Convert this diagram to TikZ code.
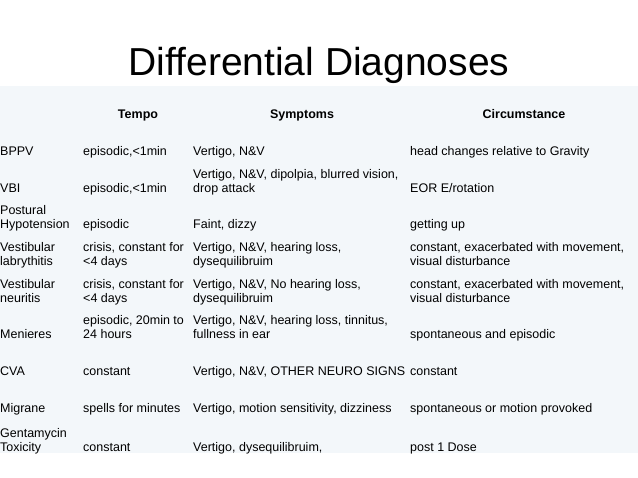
\documentclass[tikz,border=0pt]{standalone}
\usepackage{fontspec}
\setmainfont{Liberation Sans}
\definecolor{bg}{HTML}{F3F7FA}
\begin{document}
\begin{tikzpicture}[x=1pt,y=-1pt,
  t/.style={anchor=base west,inner sep=0pt,font=\fontsize{12.5}{14}\selectfont},
  h/.style={anchor=base,inner sep=0pt,font=\fontsize{12.5}{14}\selectfont\bfseries}]
\useasboundingbox (0,0) rectangle (638,478);
\fill[bg] (0,86) rectangle (638,453);
\node[anchor=base,inner sep=0pt,font=\fontsize{39}{44}\selectfont] (title) at (319,76) {Differential Diagnoses};
\node[h] (h1) at (138,118.5) {Tempo};
\node[h] (h2) at (302,118.5) {Symptoms};
\node[h] (h3) at (524,118.5) {Circumstance};
% BPPV
\node[t] (a1) at (0,155.5) {BPPV};
\node[t] (b1) at (83,155.5) {episodic,<1min};
\node[t] (c1) at (193,155.5) {Vertigo, N\&V};
\node[t] (d1) at (410,155.5) {head changes relative to Gravity};
% VBI
\node[t] (a2) at (0,192.5) {VBI};
\node[t] (b2) at (83,192.5) {episodic,<1min};
\node[t] (c2) at (193,178.5) {Vertigo, N\&V, dipolpia, blurred vision,};
\node[t] (c2b) at (193,192.5) {drop attack};
\node[t] (d2) at (410,192.5) {EOR E/rotation};
% Postural
\node[t] (a3) at (0,214.5) {Postural};
\node[t] (a3b) at (0,228.5) {Hypotension};
\node[t] (b3) at (83,228.5) {episodic};
\node[t] (c3) at (193,228.5) {Faint, dizzy};
\node[t] (d3) at (410,228.5) {getting up};
% Vestibular labrythitis
\node[t] (a4) at (0,251.5) {Vestibular};
\node[t] (a4b) at (0,266) {labrythitis};
\node[t] (b4) at (83,251.5) {crisis, constant for};
\node[t] (b4b) at (83,266) {<4 days};
\node[t] (c4) at (193,251.5) {Vertigo, N\&V, hearing loss,};
\node[t] (c4b) at (193,266) {dysequilibruim};
\node[t] (d4) at (410,251.5) {constant, exacerbated with movement,};
\node[t] (d4b) at (410,266) {visual disturbance};
% Vestibular neuritis
\node[t] (a5) at (0,288.5) {Vestibular};
\node[t] (a5b) at (0,302.5) {neuritis};
\node[t] (b5) at (83,288.5) {crisis, constant for};
\node[t] (b5b) at (83,302.5) {<4 days};
\node[t] (c5) at (193,288.5) {Vertigo, N\&V, No hearing loss,};
\node[t] (c5b) at (193,302.5) {dysequilibruim};
\node[t] (d5) at (410,288.5) {constant, exacerbated with movement,};
\node[t] (d5b) at (410,302.5) {visual disturbance};
% Menieres
\node[t] (a6) at (0,338.5) {Menieres};
\node[t] (b6) at (83,325) {episodic, 20min to};
\node[t] (b6b) at (83,338.5) {24 hours};
\node[t] (c6) at (193,325) {Vertigo, N\&V, hearing loss, tinnitus,};
\node[t] (c6b) at (193,338.5) {fullness in ear};
\node[t] (d6) at (410,338.5) {spontaneous and episodic};
% CVA
\node[t] (a7) at (0,375.5) {CVA};
\node[t] (b7) at (83,375.5) {constant};
\node[t] (c7) at (193,375.5) {Vertigo, N\&V, OTHER NEURO SIGNS};
\node[t] (d7) at (410,375.5) {constant};
% Migrane
\node[t] (a8) at (0,412.5) {Migrane};
\node[t] (b8) at (83,412.5) {spells for minutes};
\node[t] (c8) at (193,412.5) {Vertigo, motion sensitivity, dizziness};
\node[t] (d8) at (410,412.5) {spontaneous or motion provoked};
% Gentamycin
\node[t] (a9) at (0,437.5) {Gentamycin};
\node[t] (a9b) at (0,451.5) {Toxicity};
\node[t] (b9) at (83,451.5) {constant};
\node[t] (c9) at (193,451.5) {Vertigo, dysequilibruim,};
\node[t] (d9) at (410,451.5) {post 1 Dose};
\end{tikzpicture}
\end{document}
